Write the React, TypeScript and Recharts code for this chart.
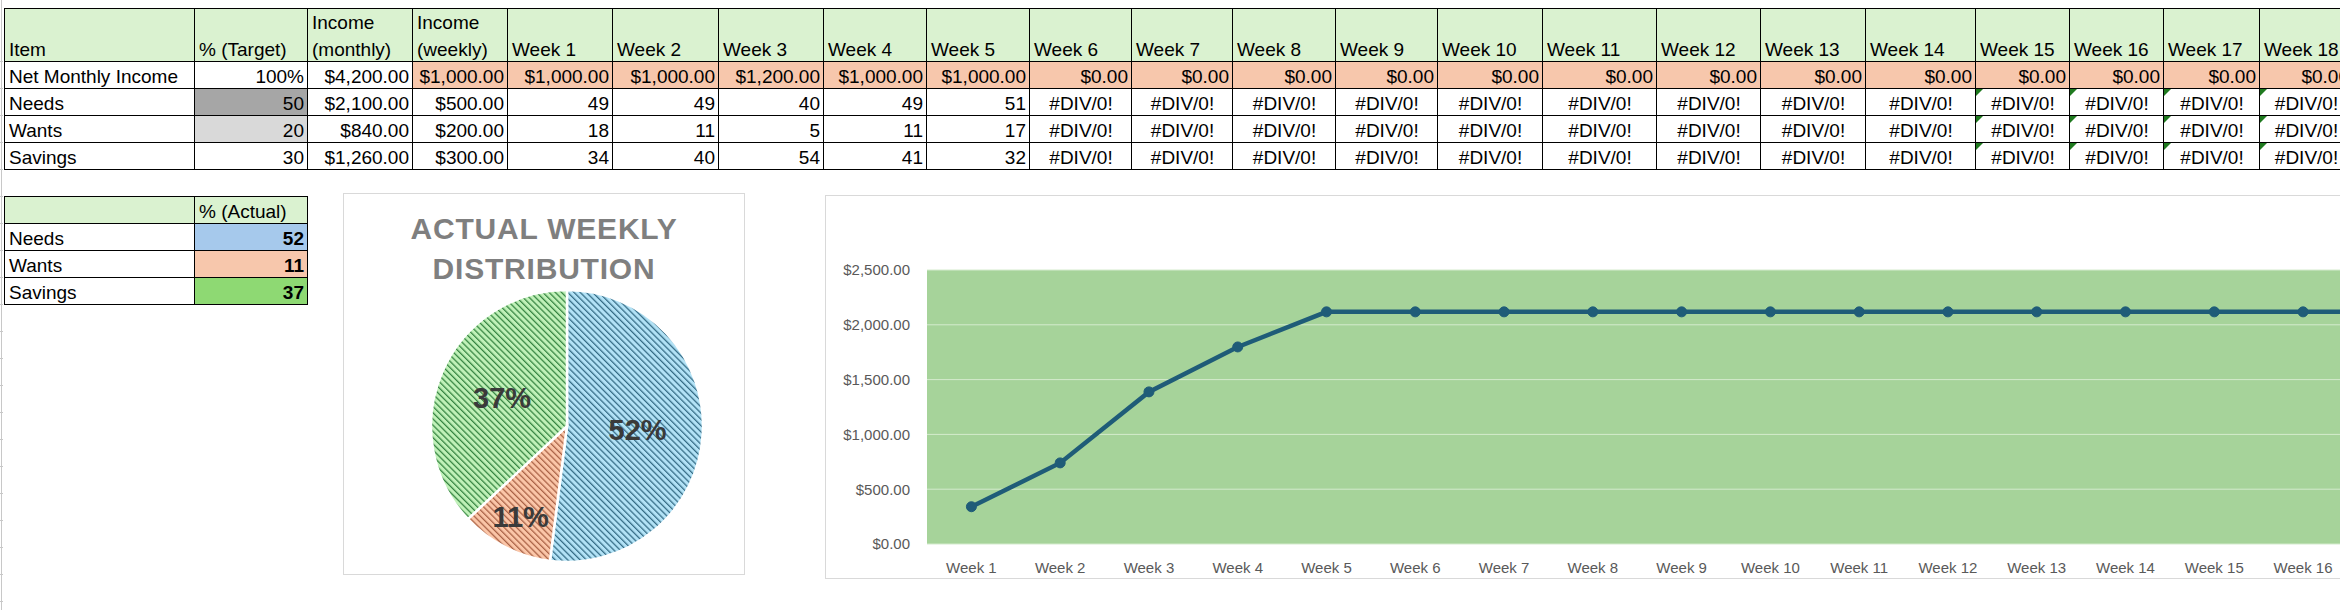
import React from 'react';
import { PieChart, Pie, Cell, LineChart, Line, XAxis, YAxis, CartesianGrid } from 'recharts';

// ---------- data ----------
const weeks = ['Week 1','Week 2','Week 3','Week 4','Week 5','Week 6','Week 7','Week 8','Week 9','Week 10','Week 11','Week 12','Week 13','Week 14','Week 15','Week 16','Week 17','Week 18'];
const items = ['Net Monthly Income', 'Needs', 'Wants', 'Savings'];
const targetPct = ['100%', '50', '20', '30'];
const incomeMonthly = ['$4,200.00', '$2,100.00', '$840.00', '$1,260.00'];
const incomeWeekly = ['$1,000.00', '$500.00', '$200.00', '$300.00'];
const weeklyIncome = [1000, 1000, 1200, 1000, 1000, 0, 0, 0, 0, 0, 0, 0, 0, 0, 0, 0, 0, 0];
const needsPct: (number | null)[] = [49, 49, 40, 49, 51, null, null, null, null, null, null, null, null, null, null, null, null, null];
const wantsPct: (number | null)[] = [18, 11, 5, 11, 17, null, null, null, null, null, null, null, null, null, null, null, null, null];
const savingsPct: (number | null)[] = [34, 40, 54, 41, 32, null, null, null, null, null, null, null, null, null, null, null, null, null];
const errorFlagWeeks = ['Week 15', 'Week 16', 'Week 17', 'Week 18'];

const actualCategories = ['Needs', 'Wants', 'Savings'];
const actualPct = [52, 11, 37];

const cumulativeSavings = [340, 740, 1388, 1798, 2118, 2118, 2118, 2118, 2118, 2118, 2118, 2118, 2118, 2118, 2118, 2118, 2118, 2118];
const yTicks = [0, 500, 1000, 1500, 2000, 2500];

// ---------- layout / style ----------
const FONT = "'Liberation Sans', Arial, sans-serif";
const topCols = [4, 194, 307, 412, 507, 612, 718, 823, 926, 1029, 1131, 1232, 1335, 1437, 1542, 1656, 1760, 1865, 1975, 2069, 2163, 2259, 2352];
const topRows = [8, 61, 88, 115, 142, 169];
const botCols = [4, 194, 307];
const botRows = [196, 223, 250, 277, 304];
const GREEN_HDR = '#daf2d0';
const SALMON = '#f7c7ac';
const actualFills = ['#a6c9ec', '#f7c7ac', '#8ed973'];
const pieFills = ['url(#hatchBlue)', 'url(#hatchSalmon)', 'url(#hatchGreen)'];

const fmtMoney = (v: number) => '$' + v.toLocaleString('en-US', { minimumFractionDigits: 2, maximumFractionDigits: 2 });
const fmtPct = (v: number | null) => (v === null ? '#DIV/0!' : String(v));

type CellSpec = { x0: number; x1: number; y0: number; y1: number; lines: string[]; align: 'left' | 'right' | 'center'; bg?: string; bold?: boolean; flag?: boolean };

function SheetCell({ c }: { c: CellSpec }) {
  return (
    <div style={{ position: 'absolute', left: c.x0, top: c.y0, width: c.x1 - c.x0, height: c.y1 - c.y0, background: c.bg || 'transparent' }}>
      <div style={{ position: 'absolute', left: 5, right: 3, bottom: -2.2, lineHeight: '27px', textAlign: c.align, whiteSpace: 'nowrap', fontWeight: c.bold ? 700 : 400 }}>
        {c.lines.map((l, i) => (<div key={i}>{l}</div>))}
      </div>
      {c.flag ? (
        <div style={{ position: 'absolute', left: 1, top: 1, width: 0, height: 0, borderTop: '7px solid #1f7a1f', borderRight: '7px solid transparent' }} />
      ) : null}
    </div>
  );
}

function GridLines({ cols, rows }: { cols: number[]; rows: number[] }) {
  const out: React.ReactNode[] = [];
  rows.forEach((y, i) => out.push(<div key={'h' + i} style={{ position: 'absolute', left: cols[0], top: y, width: cols[cols.length - 1] - cols[0] + 1, height: 1, background: '#000' }} />));
  cols.forEach((x, i) => out.push(<div key={'v' + i} style={{ position: 'absolute', left: x, top: rows[0], width: 1, height: rows[rows.length - 1] - rows[0] + 1, background: '#000' }} />));
  return <>{out}</>;
}

function buildTopCells(): CellSpec[] {
  const cells: CellSpec[] = [];
  const headers: string[][] = [['Item'], ['% (Target)'], ['Income', '(monthly)'], ['Income', '(weekly)'], ...weeks.map((w) => [w])];
  headers.forEach((h, ci) => cells.push({ x0: topCols[ci], x1: topCols[ci + 1], y0: topRows[0], y1: topRows[1], lines: h, align: 'left', bg: GREEN_HDR }));
  const pctRows = [needsPct, wantsPct, savingsPct];
  items.forEach((item, r) => {
    const y0 = topRows[r + 1];
    const y1 = topRows[r + 2];
    cells.push({ x0: topCols[0], x1: topCols[1], y0, y1, lines: [item], align: 'left' });
    cells.push({ x0: topCols[1], x1: topCols[2], y0, y1, lines: [targetPct[r]], align: 'right', bg: r === 1 ? '#a6a6a6' : r === 2 ? '#d9d9d9' : undefined });
    cells.push({ x0: topCols[2], x1: topCols[3], y0, y1, lines: [incomeMonthly[r]], align: 'right' });
    cells.push({ x0: topCols[3], x1: topCols[4], y0, y1, lines: [incomeWeekly[r]], align: 'right', bg: r === 0 ? SALMON : undefined });
    weeks.forEach((w, wi) => {
      const ci = 4 + wi;
      if (r === 0) {
        cells.push({ x0: topCols[ci], x1: topCols[ci + 1], y0, y1, lines: [fmtMoney(weeklyIncome[wi])], align: 'right', bg: SALMON });
      } else {
        const v = pctRows[r - 1][wi];
        cells.push({ x0: topCols[ci], x1: topCols[ci + 1], y0, y1, lines: [fmtPct(v)], align: v === null ? 'center' : 'right', flag: errorFlagWeeks.includes(w) });
      }
    });
  });
  return cells;
}

function buildBottomCells(): CellSpec[] {
  const cells: CellSpec[] = [];
  cells.push({ x0: botCols[0], x1: botCols[1], y0: botRows[0], y1: botRows[1], lines: [''], align: 'left', bg: GREEN_HDR });
  cells.push({ x0: botCols[1], x1: botCols[2], y0: botRows[0], y1: botRows[1], lines: ['% (Actual)'], align: 'left', bg: GREEN_HDR });
  actualCategories.forEach((c, r) => {
    cells.push({ x0: botCols[0], x1: botCols[1], y0: botRows[r + 1], y1: botRows[r + 2], lines: [c], align: 'left' });
    cells.push({ x0: botCols[1], x1: botCols[2], y0: botRows[r + 1], y1: botRows[r + 2], lines: [String(actualPct[r])], align: 'right', bg: actualFills[r], bold: true });
  });
  return cells;
}

const RADIAN = Math.PI / 180;
const renderPieLabel = (props: any) => {
  const { cx, cy, midAngle, outerRadius, percent, value } = props;
  const r = outerRadius * (percent < 0.2 ? 0.75 : 0.52);
  const x = cx + r * Math.cos(-midAngle * RADIAN);
  const y = cy + r * Math.sin(-midAngle * RADIAN);
  return (
    <text x={x} y={y} fill="#3a3a3a" textAnchor="middle" dominantBaseline="central" style={{ fontSize: 29, fontWeight: 700, fontFamily: FONT }}>
      {`${value}%`}
    </text>
  );
};

const BAND = 88.8;

export default function App() {
  const topCells = buildTopCells();
  const botCells = buildBottomCells();
  const pieData = actualCategories.map((name, i) => ({ name, value: actualPct[i] }));
  const lineData = weeks.map((w, i) => ({ week: w, savings: cumulativeSavings[i] }));
  const rowTicks: number[] = [];
  for (let y = 61; y < 610; y += 27) rowTicks.push(y);

  return (
    <div style={{ position: 'fixed', left: 0, top: 0, width: 2340, height: 610, overflow: 'hidden', background: '#fff', fontFamily: FONT, fontSize: 19, color: '#000' }}>
      <svg width={0} height={0} style={{ position: 'absolute' }}>
        <defs>
          <pattern id="hatchBlue" patternUnits="userSpaceOnUse" width={4.4} height={4.4} patternTransform="rotate(-45)">
            <rect width={4.4} height={4.4} fill="#b2e2f6" />
            <rect width={1.25} height={4.4} fill="#336a84" />
          </pattern>
          <pattern id="hatchGreen" patternUnits="userSpaceOnUse" width={4.4} height={4.4} patternTransform="rotate(-45)">
            <rect width={4.4} height={4.4} fill="#c0f1b8" />
            <rect width={1.25} height={4.4} fill="#33823f" />
          </pattern>
          <pattern id="hatchSalmon" patternUnits="userSpaceOnUse" width={4.4} height={4.4} patternTransform="rotate(-45)">
            <rect width={4.4} height={4.4} fill="#fbc6a8" />
            <rect width={1.25} height={4.4} fill="#a86044" />
          </pattern>
        </defs>
      </svg>

      {/* sheet row-header edge */}
      <div style={{ position: 'absolute', left: 1, top: 0, width: 1, height: 610, background: '#c8c8c8' }} />
      {rowTicks.map((y) => (
        <div key={y} style={{ position: 'absolute', left: 0, top: y, width: 3, height: 1, background: '#c8c8c8' }} />
      ))}

      {/* top table */}
      {topCells.map((c, i) => (<SheetCell key={'t' + i} c={c} />))}
      <GridLines cols={topCols} rows={topRows} />

      {/* bottom-left table */}
      {botCells.map((c, i) => (<SheetCell key={'b' + i} c={c} />))}
      <GridLines cols={botCols} rows={botRows} />

      {/* pie chart */}
      <div style={{ position: 'absolute', left: 343, top: 193, width: 402, height: 382, border: '1px solid #d9d9d9', boxSizing: 'border-box' }} />
      <div style={{ position: 'absolute', left: 343, top: 193 }}>
        <PieChart width={402} height={382}>
          <Pie data={pieData} dataKey="value" nameKey="name" cx={219} cy={228} outerRadius={136} startAngle={90} endAngle={-270} stroke="#ffffff" strokeWidth={2.5} label={renderPieLabel} labelLine={false} isAnimationActive={false}>
            {pieData.map((d, i) => (<Cell key={d.name} fill={pieFills[i]} />))}
          </Pie>
        </PieChart>
      </div>
      <div style={{ position: 'absolute', left: 343, top: 208.6, width: 402, textAlign: 'center', fontSize: 30, fontWeight: 700, lineHeight: '40px', letterSpacing: 0.8, color: '#7f7f7f' }}>
        <div>ACTUAL WEEKLY</div>
        <div>DISTRIBUTION</div>
      </div>

      {/* line chart */}
      <div style={{ position: 'absolute', left: 825, top: 195, width: 1700, height: 384, border: '1px solid #d9d9d9', boxSizing: 'border-box' }} />
      <div style={{ position: 'absolute', left: 825, top: 195 }}>
        <LineChart width={1710} height={384} data={lineData} margin={{ top: 75, right: 10, left: 0, bottom: 0 }}>
          <CartesianGrid vertical={false} fill="#a6d39a" fillOpacity={1} stroke="#d4ebcd" />
          <XAxis dataKey="week" interval={0} padding={{ left: BAND / 2, right: BAND / 2 }} tickLine={false} axisLine={false} tickSize={0} tickMargin={18} height={35} tick={{ fill: '#595959', fontSize: 15, fontFamily: FONT }} />
          <YAxis domain={[0, 2500]} ticks={yTicks} tickFormatter={(v: number) => fmtMoney(v)} tickLine={false} axisLine={false} tickSize={0} tickMargin={17} width={102} tick={{ fill: '#595959', fontSize: 15, fontFamily: FONT }} />
          <Line type="linear" dataKey="savings" stroke="#1f5c78" strokeWidth={4.5} dot={{ r: 5, fill: '#1f5c78', stroke: '#1f5c78', strokeWidth: 1 }} isAnimationActive={false} />
        </LineChart>
      </div>
    </div>
  );
}
